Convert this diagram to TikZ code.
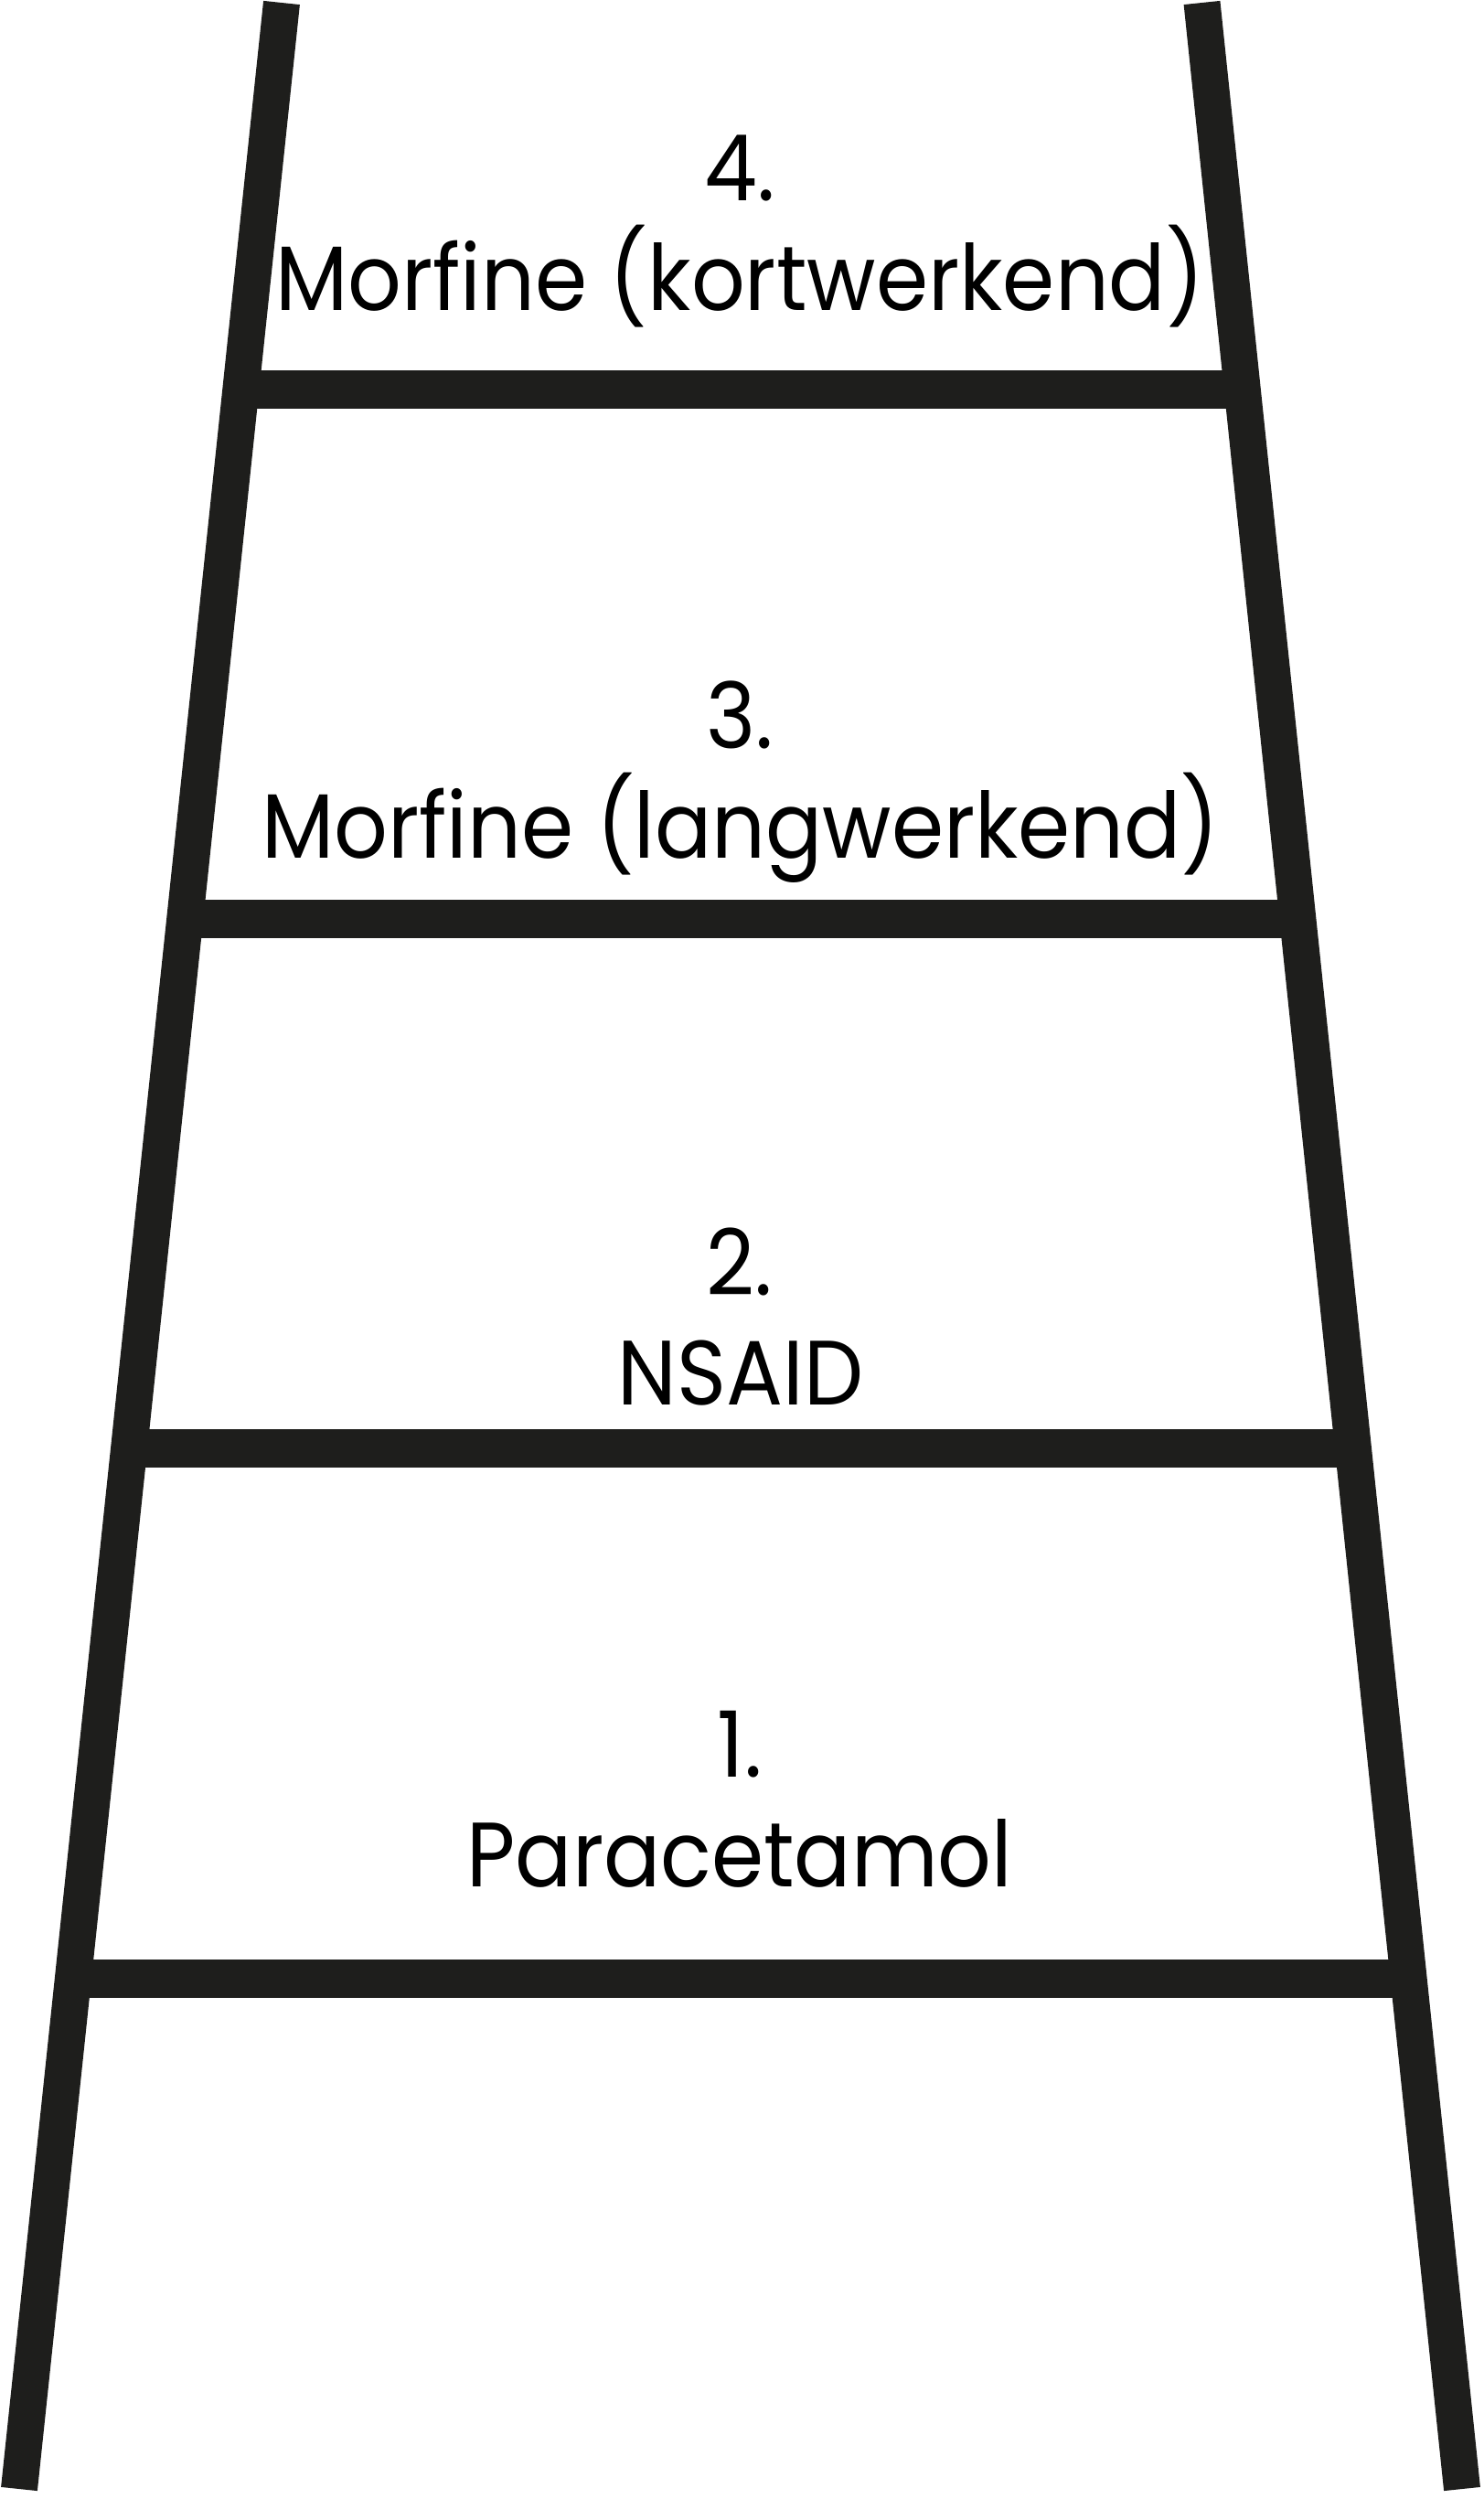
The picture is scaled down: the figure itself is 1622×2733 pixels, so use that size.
\documentclass[tikz,border=0pt]{standalone}
\usepackage{fontspec}
\setmainfont{Poppins}[FakeStretch=0.92]
\usepackage{xcolor}
\usetikzlibrary{calc}
\definecolor{ladderblack}{HTML}{1E1E1C}
\tikzset{
	rail/.style={line width=20pt, line cap=butt, ladderblack},
	rung/.style={line width=21pt, line cap=butt, ladderblack},
	steplabel/.style={anchor=base, inner sep=0pt, font=\fontsize{50}{60}\selectfont}
}

\begin{document}
\begin{tikzpicture}[x=0.5pt, y=-0.5pt]
		\useasboundingbox (0,0) rectangle (1622,2733);

		% Rails
		\coordinate (ltop) at (308,3);
		\coordinate (lbot) at (21,2722);
		\coordinate (rtop) at (1314.5,3);
		\coordinate (rbot) at (1599,2722);
		\draw[rail] (ltop) -- (lbot);
		\draw[rail] (rtop) -- (rbot);

		% Rungs
		\draw[rung] ($(ltop)!0.15557!(lbot)$) coordinate (l4) -- ($(rtop)!0.15557!(rbot)$) coordinate (r4);
		\draw[rung] ($(ltop)!0.36852!(lbot)$) coordinate (l3) -- ($(rtop)!0.36852!(rbot)$) coordinate (r3);
		\draw[rung] ($(ltop)!0.58146!(lbot)$) coordinate (l2) -- ($(rtop)!0.58146!(rbot)$) coordinate (r2);
		\draw[rung] ($(ltop)!0.79478!(lbot)$) coordinate (l1) -- ($(rtop)!0.79478!(rbot)$) coordinate (r1);

		% Steps (labels)
		\node[steplabel] (num4) at (809,220) {4.};
		\node[steplabel] (drug4) at (809,340) {Morfine (kortwerkend)};
		\node[steplabel] (num3) at (809,818) {3.};
		\node[steplabel] (drug3) at (810,938) {Morfine (langwerkend)};
		\node[steplabel] (num2) at (809,1416) {2.};
		\node[steplabel] (drug2) at (810,1536) {NSAID};
		\node[steplabel] (num1) at (809,1943) {1.};
		\node[steplabel] (drug1) at (809,2063) {Paracetamol};
	\end{tikzpicture}
\end{document}
